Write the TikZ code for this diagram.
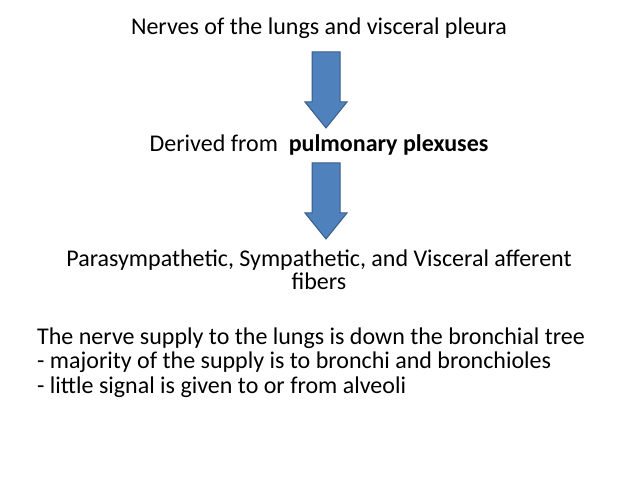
\documentclass[tikz,border=0pt]{standalone}
\usepackage{fontspec}
\setmainfont{Carlito}
\begin{document}
\begin{tikzpicture}[x=1pt,y=-1pt,
  txt/.style={font=\fontsize{24}{28}\selectfont, inner sep=0pt, anchor=base},
  ltxt/.style={txt, anchor=base west},
  downarrow/.style={fill=arrowfill, draw=arrowline, line width=1pt}]
\definecolor{arrowfill}{HTML}{4F81BD}
\definecolor{arrowline}{HTML}{385D8A}
\useasboundingbox (0,0) rectangle (638,478);
\node[txt] (t1) at (319,35) {Nerves of the lungs and visceral pleura};
\node[txt] (t2) at (319,152) {Derived from\ \ \textbf{pulmonary plexuses}};
\node[txt] (t3) at (319,267) {Parasympathetic, Sympathetic, and Visceral afferent};
\node[txt] (t3b) at (319,290) {fibers};
\node[ltxt] (t4) at (37,345) {The nerve supply to the lungs is down the bronchial tree};
\node[ltxt] (t5) at (37,369) {- majority of the supply is to bronchi and bronchioles};
\node[ltxt] (t6) at (37,394) {- little signal is given to or from alveoli};
\foreach \y in {52,163}{
  \draw[downarrow] (312,\y) -- (340,\y) -- (340,\y+50) -- (347,\y+50) -- (326,\y+76) -- (305,\y+50) -- (312,\y+50) -- cycle;
}
\end{tikzpicture}
\end{document}
